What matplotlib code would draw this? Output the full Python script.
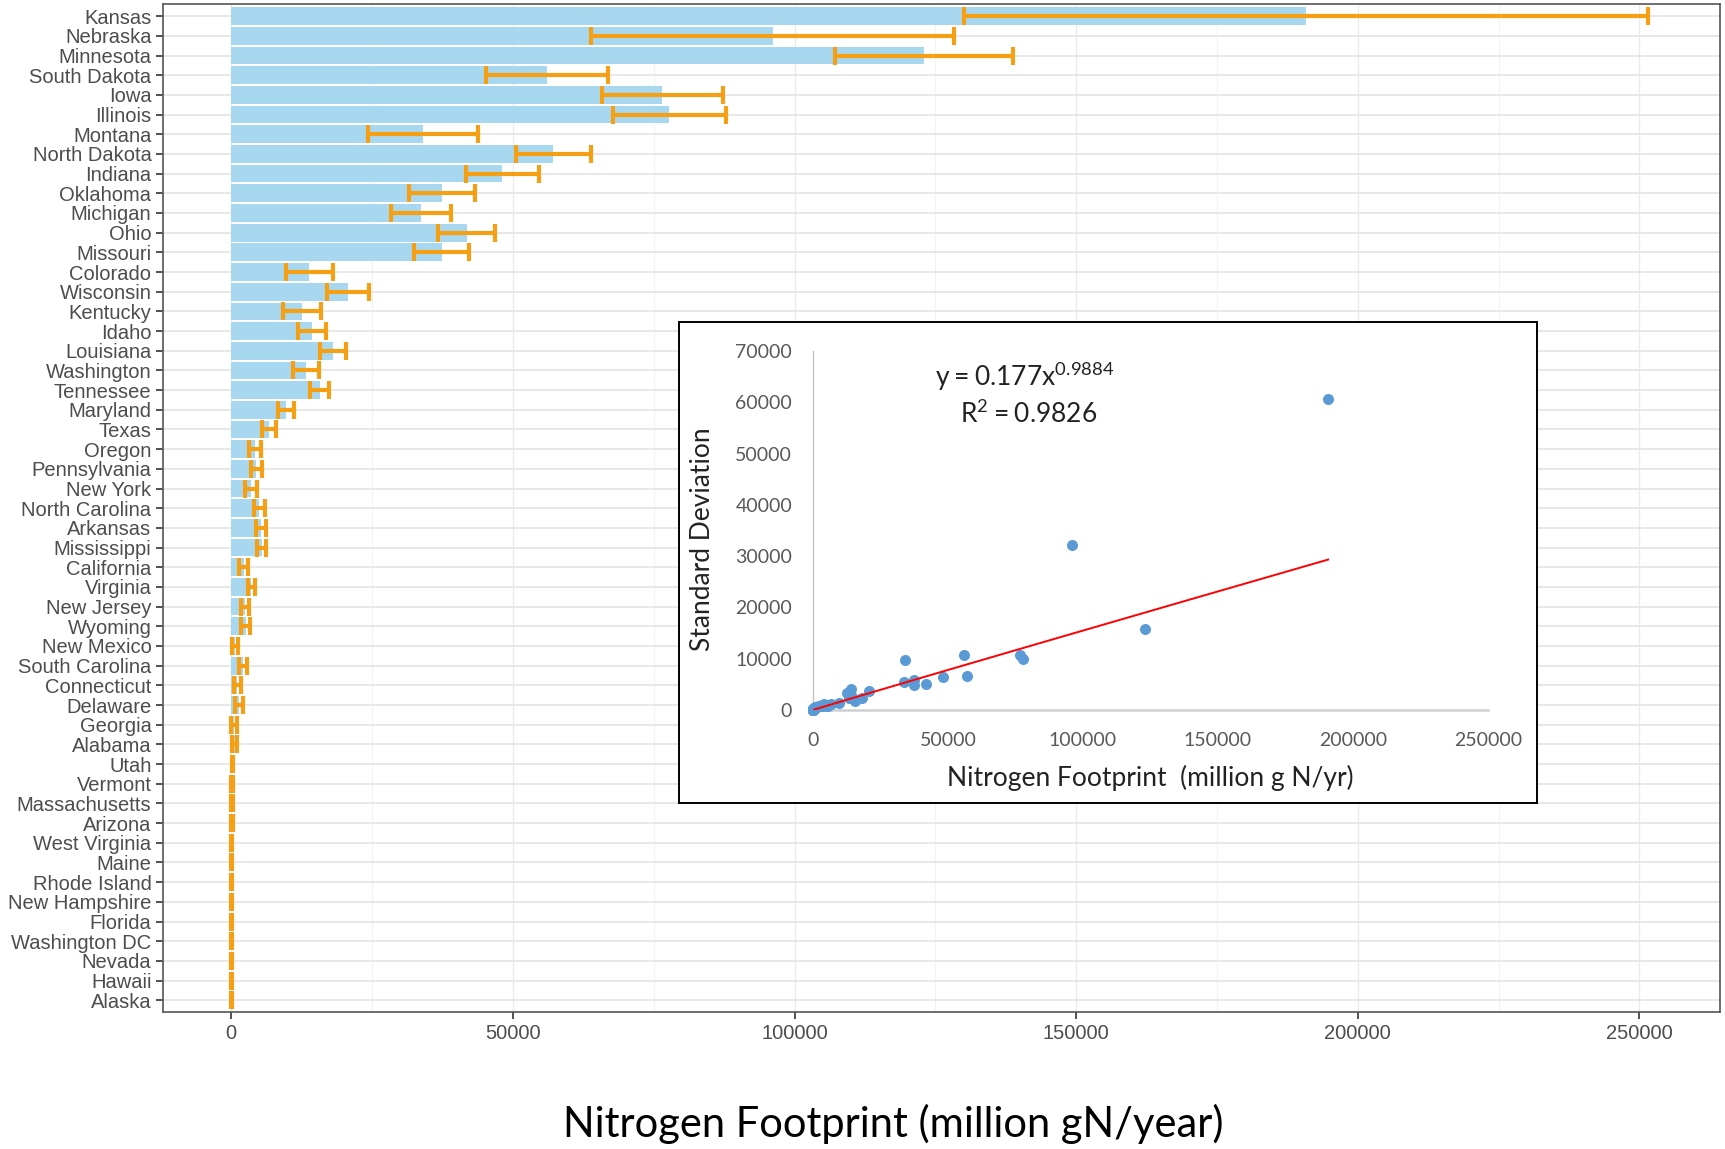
import numpy as np
import matplotlib
matplotlib.use('Agg')
import matplotlib.pyplot as plt

# state nitrogen footprint (million gN/year), top to bottom as shown
states = ['Kansas', 'Nebraska', 'Minnesota', 'South Dakota', 'Iowa', 'Illinois',
          'Montana', 'North Dakota', 'Indiana', 'Oklahoma', 'Michigan', 'Ohio',
          'Missouri', 'Colorado', 'Wisconsin', 'Kentucky', 'Idaho', 'Louisiana',
          'Washington', 'Tennessee', 'Maryland', 'Texas', 'Oregon', 'Pennsylvania',
          'New York', 'North Carolina', 'Arkansas', 'Mississippi', 'California',
          'Virginia', 'New Jersey', 'Wyoming', 'New Mexico', 'South Carolina',
          'Connecticut', 'Delaware', 'Georgia', 'Alabama', 'Utah', 'Vermont',
          'Massachusetts', 'Arizona', 'West Virginia', 'Maine', 'Rhode Island',
          'New Hampshire', 'Florida', 'Washington DC', 'Nevada', 'Hawaii', 'Alaska']
footprint = [190800, 96100, 123000, 56100, 76550, 77800,
             34100, 57200, 48100, 37400, 33700, 41800,
             37400, 13900, 20700, 12600, 14300, 18100,
             13300, 15700, 9700, 6700, 4200, 4450,
             3500, 5000, 5300, 5400, 2200,
             3600, 2500, 2550, 700, 2050,
             1100, 1400, 500, 600, 200, 150,
             150, 140, 130, 120, 80,
             90, 90, 60, 80, 100, 40]
std_dev = [60700, 32200, 15800, 10800, 10700, 10000,
           9800, 6700, 6500, 5900, 5400, 5100,
           4900, 4100, 3750, 3400, 2450, 2250,
           2300, 1700, 1400, 1250, 1100, 1000,
           1000, 1000, 870, 870, 750,
           700, 750, 750, 550, 700,
           600, 650, 450, 450, 120, 110,
           100, 100, 100, 90, 60,
           70, 70, 50, 60, 80, 30]

# power fit shown in the inset
fit_a = 0.177
fit_b = 0.9884
fit_r2 = 0.9826

fig = plt.figure(figsize=(17.25, 11.49), dpi=100)

# ---- main bar chart ----
ax = fig.add_axes([0.0945, 0.1192, 0.9025, 0.877])
ypos = np.arange(len(states))[::-1] + 1
ax.barh(ypos, footprint, height=0.9, color='#A8D8EF', zorder=2)
ax.errorbar(footprint, ypos, xerr=std_dev, fmt='none', ecolor='#F5A014',
            elinewidth=3.0, capsize=6.5, capthick=3.0, zorder=3)

ax.set_xlim(-12100, 264260)
ax.set_ylim(0.4, len(states) + 0.6)
ax.set_yticks(ypos)
ax.set_yticklabels(states)
ax.set_xticks([0, 50000, 100000, 150000, 200000, 250000])
ax.set_xticks([25000, 75000, 125000, 175000, 225000], minor=True)
ax.tick_params(axis='y', length=4.8, width=1.2, color='#333333', pad=3.5,
               labelsize=14.5, labelcolor='#4D4D4D')
ax.tick_params(axis='x', which='major', length=4.8, width=1.2, color='#333333',
               pad=4, labelsize=14.5, labelcolor='#4D4D4D')
ax.tick_params(axis='x', which='minor', length=0)
for lab in ax.get_xticklabels() + ax.get_yticklabels():
    lab.set_fontfamily('Liberation Sans')
ax.grid(True, which='major', axis='y', color='#E6E6E6', lw=1.3, zorder=0)
ax.grid(True, which='major', axis='x', color='#EBEBEB', lw=1.0, zorder=0)
ax.grid(True, which='minor', axis='x', color='#F2F2F2', lw=0.8, zorder=0)
ax.set_axisbelow(True)
for sp in ax.spines.values():
    sp.set_color('#555555')
    sp.set_linewidth(1.2)

fig.text(0.518, 0.0218, 'Nitrogen Footprint (million gN/year)', fontsize=30,
         family='Lato', ha='center', va='center', color='black')

# ---- inset box ----
box = fig.add_axes([0.3936, 0.3011, 0.4974, 0.4187])
box.set_xticks([])
box.set_yticks([])
box.set_facecolor('white')
for sp in box.spines.values():
    sp.set_color('black')
    sp.set_linewidth(1.4)

ins = fig.add_axes([0.4713, 0.3821, 0.3913, 0.3124])
ins.patch.set_alpha(0)
ins.scatter(footprint, std_dev, s=48, color='#5B9BD5', zorder=3, clip_on=False)
xfit = np.linspace(min(footprint), max(footprint), 200)
ins.plot(xfit, fit_a * xfit ** fit_b, color='#FF0000', lw=1.4, zorder=4)
ins.set_xlim(0, 250000)
ins.set_ylim(0, 70000)
ins.set_xticks(np.arange(0, 250001, 50000))
ins.set_yticks(np.arange(0, 70001, 10000))
ins.tick_params(length=0, labelsize=14, labelcolor='#595959')
ins.tick_params(axis='y', pad=15)
ins.tick_params(axis='x', pad=16)
for lab in ins.get_xticklabels() + ins.get_yticklabels():
    lab.set_fontfamily('Lato')
for side in ['top', 'right']:
    ins.spines[side].set_visible(False)
ins.spines['left'].set_color('#BFBFBF')
ins.spines['left'].set_linewidth(0.9)
ins.spines['bottom'].set_color('#D0D0D0')
ins.spines['bottom'].set_linewidth(1.8)

fig.text(702 / 1725, 1 - 539 / 1149, 'Standard Deviation', rotation=90,
         fontsize=19, family='Lato', ha='center', va='center', color='#222222')
fig.text(1150 / 1725, 1 - 778 / 1149, 'Nitrogen Footprint  (million g N/yr)',
         fontsize=19, family='Lato', ha='center', va='center', color='#222222')
fig.text(935 / 1725, 1 - 377 / 1149,
         r'$\mathregular{y = %.3fx^{%.4f}}$' % (fit_a, fit_b),
         fontsize=19, family='Lato', ha='left', va='center', color='#222222')
fig.text(960 / 1725, 1 - 414 / 1149,
         r'$\mathregular{R^{2} = %.4f}$' % fit_r2,
         fontsize=19, family='Lato', ha='left', va='center', color='#222222')

fig.savefig('out.png', dpi=100)
